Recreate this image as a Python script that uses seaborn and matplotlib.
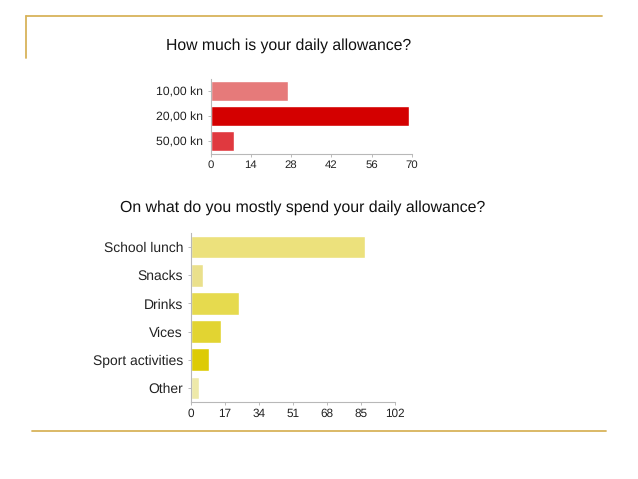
import matplotlib
matplotlib.use("Agg")
import matplotlib.pyplot as plt
from matplotlib.lines import Line2D
import seaborn as sns
import pandas as pd

# data
allowance_labels = ["10,00 kn", "20,00 kn", "50,00 kn"]
allowance_counts = [27, 69, 8]
allowance_colors = ["#E67A7A", "#D40000", "#E0393F"]

spend_labels = ["School lunch", "Snacks", "Drinks", "Vices", "Sport activities", "Other"]
spend_counts = [87, 6, 24, 15, 9, 4]
spend_colors = ["#ECE17C", "#EAE08C", "#E6DA4E", "#E2D432", "#DDCB05", "#EEE9A9"]

W, H = 638, 479
sns.set_style("white")
plt.rcParams["font.family"] = ["Liberation Sans", "DejaVu Sans"]
plt.rcParams["text.hinting"] = "no_hinting"
fig = plt.figure(figsize=(W / 100, H / 100), dpi=100)


def px_axes(left, top, right, bottom):
    return fig.add_axes([left / W, 1 - bottom / H, (right - left) / W, (bottom - top) / H])


def style_axes(ax, xmax, step, ylab_size, xlab_size):
    ax.set_xlim(0, xmax)
    ax.set_xticks(range(0, xmax + 1, step))
    ax.set_xlabel("")
    ax.set_ylabel("")
    sns.despine(ax=ax)
    for s in ["left", "bottom"]:
        ax.spines[s].set_color("#B8B8B8")
        ax.spines[s].set_linewidth(0.8)
    ax.tick_params(axis="y", length=2.5, width=0.6, color="#B0B0B0", pad=3,
                   labelsize=ylab_size, labelcolor="#222222", left=True)
    ax.tick_params(axis="x", length=2.5, width=0.6, color="#B0B0B0", pad=2,
                   labelsize=xlab_size, labelcolor="#222222", bottom=True)


# top chart
df_top = pd.DataFrame({"label": allowance_labels, "count": allowance_counts})
ax1 = px_axes(210.7, 78.5, 411.7, 153.5)
sns.barplot(data=df_top, y="label", x="count", hue="label", palette=allowance_colors,
            orient="h", width=0.8, legend=False, ax=ax1, saturation=1)
ax1.set_ylim(2.5, -0.5)
style_axes(ax1, 70, 14, 8.8, 8.2)

# bottom chart
df_bot = pd.DataFrame({"label": spend_labels, "count": spend_counts})
ax2 = px_axes(190.7, 233, 395, 402)
sns.barplot(data=df_bot, y="label", x="count", hue="label", palette=spend_colors,
            orient="h", width=0.8, legend=False, ax=ax2, saturation=1)
ax2.set_ylim(5.5, -0.5)
style_axes(ax2, 102, 17, 10, 8.5)

# titles
fig.text(289 / W, 1 - 46 / H, "How much is your daily allowance?", ha="center", va="center",
         fontsize=11.3, color="#111111")
fig.text(303 / W, 1 - 208 / H, "On what do you mostly spend your daily allowance?", ha="center",
         va="center", fontsize=11.4, color="#111111")

# slide decoration lines
gold = "#D8B35A"
fig.add_artist(Line2D([26 / W, 602 / W], [1 - 16 / H, 1 - 16 / H], color=gold, lw=1.3))
fig.add_artist(Line2D([26 / W, 26 / W], [1 - 16 / H, 1 - 58 / H], color=gold, lw=1.3))
fig.add_artist(Line2D([32 / W, 606 / W], [1 - 431 / H, 1 - 431 / H], color=gold, lw=1.3))

fig.savefig("out.png", dpi=100)
